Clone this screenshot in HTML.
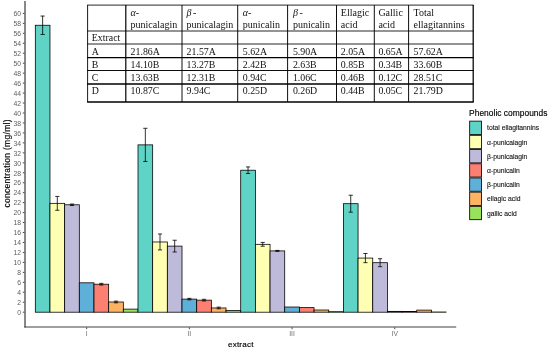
<!DOCTYPE html>
<html lang="en"><head><meta charset="utf-8"><title>Phenolic compounds chart</title>
<style>
html,body{margin:0;padding:0;background:#fff;}
body{width:550px;height:350px;overflow:hidden;position:relative;}
</style></head><body>
<svg width="550" height="350" viewBox="0 0 550 350" style="position:absolute;left:0;top:0">
<rect width="550" height="350" fill="#fff"/>
<g stroke="#404040" fill="none">
<path d="M25.0 1 V327.5" stroke-width="1.25"/>
<path d="M24.35 327.0 H456.2" stroke-width="1.05"/>
</g>
<g stroke="#333" stroke-width="0.9">
<line x1="22.8" x2="24.4" y1="312.20" y2="312.20"/>
<line x1="22.8" x2="24.4" y1="302.24" y2="302.24"/>
<line x1="22.8" x2="24.4" y1="292.28" y2="292.28"/>
<line x1="22.8" x2="24.4" y1="282.32" y2="282.32"/>
<line x1="22.8" x2="24.4" y1="272.36" y2="272.36"/>
<line x1="22.8" x2="24.4" y1="262.40" y2="262.40"/>
<line x1="22.8" x2="24.4" y1="252.44" y2="252.44"/>
<line x1="22.8" x2="24.4" y1="242.48" y2="242.48"/>
<line x1="22.8" x2="24.4" y1="232.52" y2="232.52"/>
<line x1="22.8" x2="24.4" y1="222.56" y2="222.56"/>
<line x1="22.8" x2="24.4" y1="212.60" y2="212.60"/>
<line x1="22.8" x2="24.4" y1="202.64" y2="202.64"/>
<line x1="22.8" x2="24.4" y1="192.68" y2="192.68"/>
<line x1="22.8" x2="24.4" y1="182.72" y2="182.72"/>
<line x1="22.8" x2="24.4" y1="172.76" y2="172.76"/>
<line x1="22.8" x2="24.4" y1="162.80" y2="162.80"/>
<line x1="22.8" x2="24.4" y1="152.84" y2="152.84"/>
<line x1="22.8" x2="24.4" y1="142.88" y2="142.88"/>
<line x1="22.8" x2="24.4" y1="132.92" y2="132.92"/>
<line x1="22.8" x2="24.4" y1="122.96" y2="122.96"/>
<line x1="22.8" x2="24.4" y1="113.00" y2="113.00"/>
<line x1="22.8" x2="24.4" y1="103.04" y2="103.04"/>
<line x1="22.8" x2="24.4" y1="93.08" y2="93.08"/>
<line x1="22.8" x2="24.4" y1="83.12" y2="83.12"/>
<line x1="22.8" x2="24.4" y1="73.16" y2="73.16"/>
<line x1="22.8" x2="24.4" y1="63.20" y2="63.20"/>
<line x1="22.8" x2="24.4" y1="53.24" y2="53.24"/>
<line x1="22.8" x2="24.4" y1="43.28" y2="43.28"/>
<line x1="22.8" x2="24.4" y1="33.32" y2="33.32"/>
<line x1="22.8" x2="24.4" y1="23.36" y2="23.36"/>
<line x1="22.8" x2="24.4" y1="13.40" y2="13.40"/>
<line x1="86.65" x2="86.65" y1="327.4" y2="329.2"/>
<line x1="189.35" x2="189.35" y1="327.4" y2="329.2"/>
<line x1="292.05" x2="292.05" y1="327.4" y2="329.2"/>
<line x1="394.75" x2="394.75" y1="327.4" y2="329.2"/>
</g>
<g font-family="'Liberation Sans', Arial, sans-serif" font-size="6.8" fill="#606060" text-anchor="end">
<text x="21" y="314.95">0</text>
<text x="21" y="304.99">2</text>
<text x="21" y="295.03">4</text>
<text x="21" y="285.07">6</text>
<text x="21" y="275.11">8</text>
<text x="21" y="265.15">10</text>
<text x="21" y="255.19">12</text>
<text x="21" y="245.23">14</text>
<text x="21" y="235.27">16</text>
<text x="21" y="225.31">18</text>
<text x="21" y="215.35">20</text>
<text x="21" y="205.39">22</text>
<text x="21" y="195.43">24</text>
<text x="21" y="185.47">26</text>
<text x="21" y="175.51">28</text>
<text x="21" y="165.55">30</text>
<text x="21" y="155.59">32</text>
<text x="21" y="145.63">34</text>
<text x="21" y="135.67">36</text>
<text x="21" y="125.71">38</text>
<text x="21" y="115.75">40</text>
<text x="21" y="105.79">42</text>
<text x="21" y="95.83">44</text>
<text x="21" y="85.87">46</text>
<text x="21" y="75.91">48</text>
<text x="21" y="65.95">50</text>
<text x="21" y="55.99">52</text>
<text x="21" y="46.03">54</text>
<text x="21" y="36.07">56</text>
<text x="21" y="26.11">58</text>
<text x="21" y="16.15">60</text>
</g>
<g font-family="'Liberation Sans', Arial, sans-serif" font-size="6.8" fill="#707070" text-anchor="middle">
<text x="86.65" y="336.4">I</text>
<text x="189.35" y="336.4">II</text>
<text x="292.05" y="336.4">III</text>
<text x="394.75" y="336.4">IV</text>
</g>
<text x="228" y="346.5" font-family="'Liberation Sans', Arial, sans-serif" font-size="8.1" fill="#000" stroke="#000" stroke-width="0.15" textLength="25.4" lengthAdjust="spacing">extract</text>
<text transform="translate(9.9 207.6) rotate(-90)" font-family="'Liberation Sans', Arial, sans-serif" font-size="8.45" fill="#000" stroke="#000" stroke-width="0.15" textLength="88.1" lengthAdjust="spacing">concentration (mg/ml)</text>
<g stroke="#000" stroke-width="0.78">
<rect x="35.31" y="25.25" width="14.67" height="286.95" fill="#5fd3c6"/>
<rect x="49.98" y="203.34" width="14.67" height="108.86" fill="#ffffb3"/>
<rect x="64.65" y="204.78" width="14.67" height="107.42" fill="#bebada"/>
<rect x="79.31" y="282.82" width="14.67" height="29.38" fill="#5fb0d8"/>
<rect x="93.99" y="284.21" width="14.67" height="27.99" fill="#fb8072"/>
<rect x="108.66" y="301.99" width="14.67" height="10.21" fill="#fdb462"/>
<rect x="123.33" y="309.11" width="14.67" height="3.09" fill="#98e25c"/>
<rect x="138.00" y="144.87" width="14.67" height="167.33" fill="#5fd3c6"/>
<rect x="152.67" y="241.98" width="14.67" height="70.22" fill="#ffffb3"/>
<rect x="167.34" y="246.12" width="14.67" height="66.08" fill="#bebada"/>
<rect x="182.01" y="299.10" width="14.67" height="13.10" fill="#5fb0d8"/>
<rect x="196.69" y="300.15" width="14.67" height="12.05" fill="#fb8072"/>
<rect x="211.35" y="307.97" width="14.67" height="4.23" fill="#fdb462"/>
<rect x="226.02" y="310.51" width="14.67" height="1.69" fill="#98e25c"/>
<rect x="240.71" y="170.22" width="14.67" height="141.98" fill="#5fd3c6"/>
<rect x="255.38" y="244.32" width="14.67" height="67.88" fill="#ffffb3"/>
<rect x="270.05" y="250.90" width="14.67" height="61.30" fill="#bebada"/>
<rect x="284.72" y="307.02" width="14.67" height="5.18" fill="#5fb0d8"/>
<rect x="299.38" y="307.62" width="14.67" height="4.58" fill="#fb8072"/>
<rect x="314.06" y="310.01" width="14.67" height="2.19" fill="#fdb462"/>
<rect x="328.73" y="311.70" width="14.67" height="0.50" fill="#98e25c"/>
<rect x="343.40" y="203.69" width="14.67" height="108.51" fill="#5fd3c6"/>
<rect x="358.07" y="258.07" width="14.67" height="54.13" fill="#ffffb3"/>
<rect x="372.74" y="262.70" width="14.67" height="49.50" fill="#bebada"/>
<rect x="387.41" y="311.35" width="14.67" height="0.85" fill="#5fb0d8"/>
<rect x="402.08" y="311.40" width="14.67" height="0.80" fill="#fb8072"/>
<rect x="416.75" y="310.11" width="14.67" height="2.09" fill="#fdb462"/>
<rect x="431.42" y="312.00" width="14.67" height="0.20" fill="#98e25c"/>
</g>
<g stroke="#000" stroke-width="0.8" fill="none">
<path d="M40.54 16.04 H44.74 M42.64 16.04 V34.47 M40.54 34.47 H44.74"/>
<path d="M55.21 196.41 H59.41 M57.31 196.41 V210.26 M55.21 210.26 H59.41"/>
<path d="M69.88 204.03 H74.08 M71.98 204.03 V205.53 M69.88 205.53 H74.08"/>
<path d="M99.22 283.37 H103.42 M101.32 283.37 V285.06 M99.22 285.06 H103.42"/>
<path d="M113.89 301.14 H118.09 M115.99 301.14 V302.84 M113.89 302.84 H118.09"/>
<path d="M143.24 128.29 H147.44 M145.34 128.29 V161.46 M143.24 161.46 H147.44"/>
<path d="M157.91 234.01 H162.11 M160.01 234.01 V249.95 M157.91 249.95 H162.11"/>
<path d="M172.58 240.24 H176.78 M174.68 240.24 V251.99 M172.58 251.99 H176.78"/>
<path d="M187.25 298.36 H191.45 M189.35 298.36 V299.85 M187.25 299.85 H191.45"/>
<path d="M201.92 299.30 H206.12 M204.02 299.30 V301.00 M201.92 301.00 H206.12"/>
<path d="M216.59 307.12 H220.79 M218.69 307.12 V308.81 M216.59 308.81 H220.79"/>
<path d="M245.94 166.93 H250.14 M248.04 166.93 V173.51 M245.94 173.51 H250.14"/>
<path d="M260.61 242.43 H264.81 M262.71 242.43 V246.21 M260.61 246.21 H264.81"/>
<path d="M275.28 250.40 H279.48 M277.38 250.40 V251.39 M275.28 251.39 H279.48"/>
<path d="M348.64 195.22 H352.84 M350.74 195.22 V212.15 M348.64 212.15 H352.84"/>
<path d="M363.31 253.49 H367.51 M365.41 253.49 V262.65 M363.31 262.65 H367.51"/>
<path d="M377.98 258.71 H382.18 M380.08 258.71 V266.68 M377.98 266.68 H382.18"/>
</g>
<text x="469.1" y="116.0" font-family="'Liberation Sans', Arial, sans-serif" font-size="8.4" fill="#000" stroke="#000" stroke-width="0.15" textLength="78.3" lengthAdjust="spacing">Phenolic compounds</text>
<g stroke="#111" stroke-width="0.9">
<rect x="469.65" y="121.15" width="11.9" height="13.3" fill="#5fd3c6"/>
<rect x="469.65" y="135.35" width="11.9" height="13.3" fill="#ffffb3"/>
<rect x="469.65" y="149.55" width="11.9" height="13.3" fill="#bebada"/>
<rect x="469.65" y="163.75" width="11.9" height="13.3" fill="#fb8072"/>
<rect x="469.65" y="177.95" width="11.9" height="13.3" fill="#5fb0d8"/>
<rect x="469.65" y="192.15" width="11.9" height="13.3" fill="#fdb462"/>
<rect x="469.65" y="206.35" width="11.9" height="13.3" fill="#98e25c"/>
</g>
<g font-family="'Liberation Sans', Arial, sans-serif" font-size="6.75" fill="#111" stroke="#111" stroke-width="0.1">
<text x="487" y="130.35">total ellagitannins</text>
<text x="487" y="144.55">α-punicalagin</text>
<text x="487" y="158.75">β-punicalagin</text>
<text x="487" y="172.95">α-punicalin</text>
<text x="487" y="187.15">β-punicalin</text>
<text x="487" y="201.35">ellagic acid</text>
<text x="487" y="215.55">gallic acid</text>
</g>
<rect x="87.6" y="5.1" width="385.6" height="96.80000000000001" fill="#fff"/>
<g stroke="#000" fill="none">
<line x1="87.1" x2="473.7" y1="5.1" y2="5.1" stroke-width="0.85"/>
<line x1="87.1" x2="473.7" y1="31.0" y2="31.0" stroke-width="0.85"/>
<line x1="87.1" x2="473.7" y1="44.0" y2="44.0" stroke-width="0.85"/>
<line x1="87.1" x2="473.7" y1="57.6" y2="57.6" stroke-width="1.3"/>
<line x1="87.1" x2="473.7" y1="70.5" y2="70.5" stroke-width="0.95"/>
<line x1="87.1" x2="473.7" y1="84" y2="84" stroke-width="1.3"/>
<line x1="87.1" x2="473.7" y1="101.9" y2="101.9" stroke-width="1.5"/>
<line x1="87.6" x2="87.6" y1="5.1" y2="101.9" stroke-width="0.9"/>
<line x1="125.8" x2="125.8" y1="5.1" y2="101.9" stroke-width="1.2"/>
<line x1="182.0" x2="182.0" y1="5.1" y2="101.9" stroke-width="0.95"/>
<line x1="237.7" x2="237.7" y1="5.1" y2="101.9" stroke-width="0.95"/>
<line x1="287.6" x2="287.6" y1="5.1" y2="101.9" stroke-width="0.95"/>
<line x1="336.5" x2="336.5" y1="5.1" y2="101.9" stroke-width="0.95"/>
<line x1="374.3" x2="374.3" y1="5.1" y2="101.9" stroke-width="0.95"/>
<line x1="408.6" x2="408.6" y1="5.1" y2="101.9" stroke-width="0.95"/>
<line x1="473.2" x2="473.2" y1="5.1" y2="101.9" stroke-width="1.25"/>
</g>
<g font-family="'Liberation Serif', 'Times New Roman', serif" font-size="9.85" fill="#111">
<text x="130.6" y="16.4" font-size="10"><tspan font-style="italic">α</tspan>-</text>
<text x="130.6" y="28.4" font-size="10">punicalagin</text>
<text x="186.6" y="16.4" font-size="10"><tspan font-style="italic">β</tspan><tspan dx="1.5">-</tspan></text>
<text x="186.6" y="28.4" font-size="10">punicalagin</text>
<text x="242.8" y="16.4" font-size="10"><tspan font-style="italic">α</tspan>-</text>
<text x="242.8" y="28.4" font-size="10">punicalin</text>
<text x="292.9" y="16.4" font-size="10"><tspan font-style="italic">β</tspan><tspan dx="1.5">-</tspan></text>
<text x="292.9" y="28.4" font-size="10">punicalin</text>
<text x="340.8" y="16.4" font-size="10">Ellagic</text>
<text x="340.8" y="28.4" font-size="10">acid</text>
<text x="378.4" y="16.4" font-size="10">Gallic</text>
<text x="378.4" y="28.4" font-size="10">acid</text>
<text x="413.6" y="16.4" font-size="10">Total</text>
<text x="413.6" y="28.4" font-size="10">ellagitannins</text>
<text x="91.7" y="41.3" textLength="28.6" lengthAdjust="spacing">Extract</text>
<text x="91.8" y="55">A</text>
<text x="130.6" y="55">21.86A</text>
<text x="186.6" y="55">21.57A</text>
<text x="242.8" y="55">5.62A</text>
<text x="292.9" y="55">5.90A</text>
<text x="340.8" y="55">2.05A</text>
<text x="378.4" y="55">0.65A</text>
<text x="413.6" y="55">57.62A</text>
<text x="91.8" y="67.6">B</text>
<text x="130.6" y="67.6">14.10B</text>
<text x="186.6" y="67.6">13.27B</text>
<text x="242.8" y="67.6">2.42B</text>
<text x="292.9" y="67.6">2.63B</text>
<text x="340.8" y="67.6">0.85B</text>
<text x="378.4" y="67.6">0.34B</text>
<text x="413.6" y="67.6">33.60B</text>
<text x="91.8" y="81">C</text>
<text x="130.6" y="81">13.63B</text>
<text x="186.6" y="81">12.31B</text>
<text x="242.8" y="81">0.94C</text>
<text x="292.9" y="81">1.06C</text>
<text x="340.8" y="81">0.46B</text>
<text x="378.4" y="81">0.12C</text>
<text x="413.6" y="81">28.51C</text>
<text x="91.8" y="94.4">D</text>
<text x="130.6" y="94.4">10.87C</text>
<text x="186.6" y="94.4">9.94C</text>
<text x="242.8" y="94.4">0.25D</text>
<text x="292.9" y="94.4">0.26D</text>
<text x="340.8" y="94.4">0.44B</text>
<text x="378.4" y="94.4">0.05C</text>
<text x="413.6" y="94.4">21.79D</text>
</g>
</svg>
</body></html>
